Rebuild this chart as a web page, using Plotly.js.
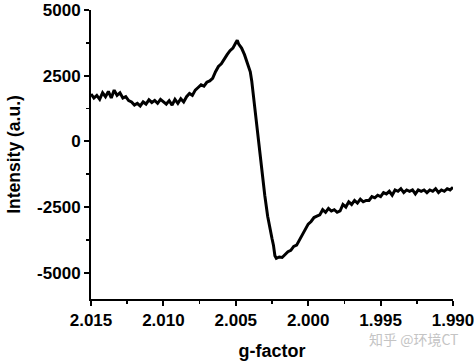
<!DOCTYPE html>
<html>
<head>
<meta charset="utf-8">
<script src="https://cdn.plot.ly/plotly-3.0.1.min.js"></script>
<style>html,body{margin:0;padding:0;background:#fff;}#chart{width:474px;height:361px;}</style>
</head>
<body>
<div id="chart"></div>
<script>
const gFactor = [
2.0150,2.0148,2.0146,2.0144,2.0142,2.0140,2.0138,2.0136,2.0134,2.0132,
2.0130,2.0128,2.0126,2.0124,2.0122,2.0120,2.0118,2.0116,2.0114,2.0112,
2.0110,2.0108,2.0106,2.0104,2.0102,2.0100,2.0098,2.0096,2.0094,2.0092,
2.0090,2.0088,2.0086,2.0084,2.0082,2.0080,2.0078,2.0076,2.0074,2.0072,
2.0070,2.0068,2.0066,2.0064,2.0062,2.0060,2.0058,2.0056,2.0054,2.0052,
2.0050,2.0049,2.0048,2.0046,2.0044,2.0042,2.0040,2.0039,2.0038,2.0036,
2.0034,2.0032,2.0030,2.0028,2.0026,2.0025,2.0024,2.0023,2.0022,2.0020,
2.0018,2.0016,2.0014,2.0012,2.0010,2.0008,2.0006,2.0004,2.0002,2.0000,
1.9998,1.9996,1.9994,1.9992,1.9990,1.9988,1.9986,1.9984,1.9982,1.9980,
1.9978,1.9976,1.9974,1.9972,1.9970,1.9968,1.9966,1.9964,1.9962,1.9960,
1.9958,1.9956,1.9954,1.9952,1.9950,1.9948,1.9946,1.9944,1.9942,1.9940,
1.9938,1.9936,1.9934,1.9932,1.9930,1.9928,1.9926,1.9924,1.9922,1.9920,
1.9918,1.9916,1.9914,1.9912,1.9910,1.9908,1.9906,1.9904,1.9902,1.9900
];
const intensity = [
1800,1650,1750,1600,1850,1700,1900,1650,1950,1750,
1850,1650,1700,1550,1500,1380,1450,1350,1500,1420,
1580,1480,1560,1450,1600,1500,1420,1550,1380,1600,
1450,1620,1500,1700,1820,1750,1950,2050,2150,2100,
2250,2300,2400,2650,2850,2950,3150,3300,3450,3550,
3750,3850,3700,3550,3300,3000,2650,2300,1800,900,
-100,-1150,-2050,-2850,-3500,-3700,-3950,-4350,-4450,-4400,
-4420,-4300,-4200,-4150,-4000,-3950,-3750,-3500,-3300,-3150,
-3050,-2900,-2850,-2800,-2600,-2700,-2550,-2650,-2600,-2700,
-2650,-2400,-2500,-2300,-2400,-2250,-2350,-2200,-2300,-2250,
-2250,-2100,-2150,-2050,-2100,-1950,-2000,-1900,-2050,-1850,
-1900,-1800,-1950,-1850,-1900,-1850,-2000,-1850,-1900,-1850,
-1950,-1850,-1900,-1800,-1950,-1850,-1900,-1800,-1850,-1750
];
const xTickVals = [2.015, 2.010, 2.005, 2.000, 1.995, 1.990];
const xTickText = ['2.015', '2.010', '2.005', '2.000', '1.995', '1.990'];
const xMinorVals = [2.0125, 2.0075, 2.0025, 1.9975, 1.9925];
const yTickVals = [-5000, -2500, 0, 2500, 5000];
const yTickText = ['-5000', '-2500', '0', '2500', '5000'];
const yMinorVals = [-3750, -1250, 1250, 3750];

const tickFont = {family: 'Liberation Sans, Arial, sans-serif', size: 17, color: '#000', weight: 'bold'};

Plotly.newPlot('chart', [{
  x: gFactor, y: intensity, type: 'scatter', mode: 'lines',
  line: {color: '#000', width: 3}, hoverinfo: 'skip'
}], {
  width: 474, height: 361,
  margin: {l: 91, r: 21, t: 10, b: 62},
  paper_bgcolor: '#fff', plot_bgcolor: '#fff',
  showlegend: false,
  xaxis: {
    range: [2.015, 1.990], tickmode: 'array', tickvals: xTickVals, ticktext: xTickText,
    ticks: 'outside', ticklen: 5, tickwidth: 2, tickcolor: '#000', ticklabeloverflow: 'allow',
    showline: true, linecolor: '#000', linewidth: 2, showgrid: false, zeroline: false,
    tickfont: tickFont,
    minor: {tickmode: 'array', tickvals: xMinorVals, ticks: 'outside', ticklen: 3, tickwidth: 1.5, tickcolor: '#000', showgrid: false},
    title: {text: 'g-factor', font: {family: 'Liberation Sans, Arial, sans-serif', size: 18, color: '#000', weight: 'bold'}, standoff: 16}
  },
  yaxis: {
    range: [-6000, 5000], tickmode: 'array', tickvals: yTickVals, ticktext: yTickText,
    ticks: 'outside', ticklen: 5, tickwidth: 2, tickcolor: '#000', ticklabeloverflow: 'allow',
    showline: true, linecolor: '#000', linewidth: 2, showgrid: false, zeroline: false,
    tickfont: tickFont,
    minor: {tickmode: 'array', tickvals: yMinorVals, ticks: 'outside', ticklen: 3, tickwidth: 1.5, tickcolor: '#000', showgrid: false},
    title: {text: 'Intensity (a.u.)', font: {family: 'Liberation Sans, Arial, sans-serif', size: 17.5, color: '#000', weight: 'bold'}, standoff: 12}
  },
  annotations: [{
    text: '知乎 @环境CT', xref: 'paper', yref: 'paper', x: 1.02, y: -0.14,
    xanchor: 'right', yanchor: 'middle', showarrow: false,
    font: {family: 'Noto Sans CJK SC, sans-serif', size: 14, color: '#c4c4c4'}
  }]
}, {staticPlot: true});
</script>
</body>
</html>
